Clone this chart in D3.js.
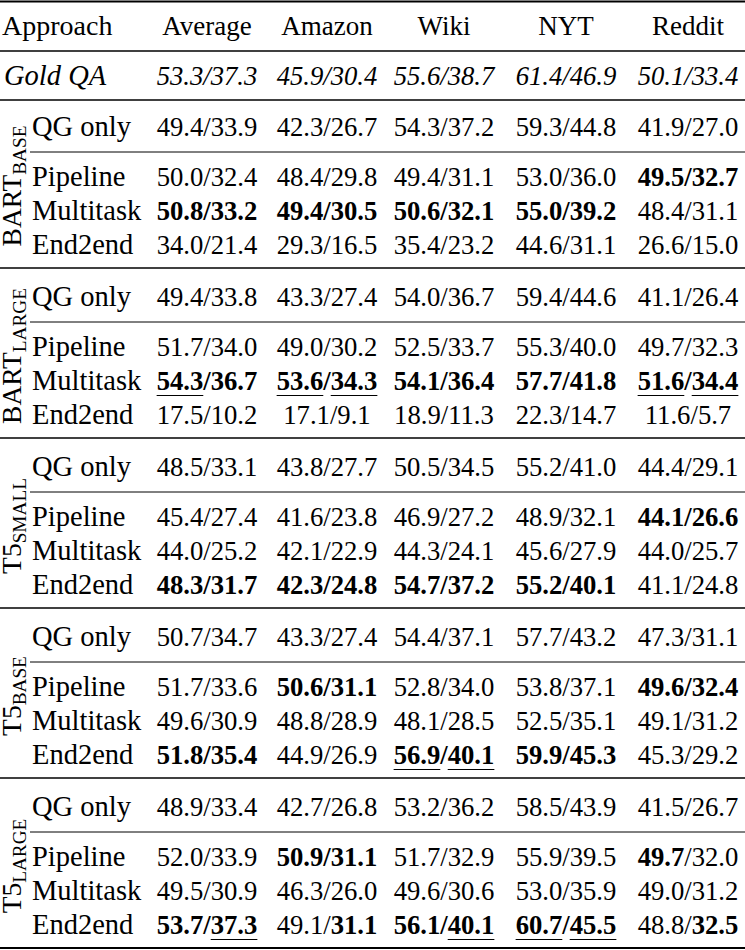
<!DOCTYPE html>
<html>
<head>
<meta charset="utf-8">
<script src="https://cdn.jsdelivr.net/npm/d3@7"></script>
<style>
  html, body { margin: 0; padding: 0; background: #fff; }
  svg { display: block; }
  text { font-family: "Liberation Serif", "Times New Roman", serif; fill: #000; }
</style>
</head>
<body>
<svg id="chart" width="745" height="950"></svg>
<script>
// ---------------- data ----------------
const columns = ["Average", "Amazon", "Wiki", "NYT", "Reddit"];
const goldQA = ["53.3/37.3", "45.9/30.4", "55.6/38.7", "61.4/46.9", "50.1/33.4"];
const approaches = ["QG only", "Pipeline", "Multitask", "End2end"];
const modelNames = ["BART", "BART", "T5", "T5", "T5"];
const modelSizes = ["BASE", "LARGE", "SMALL", "BASE", "LARGE"];

// scores[model][approach][column]
const bartBase = [
  ["49.4/33.9", "42.3/26.7", "54.3/37.2", "59.3/44.8", "41.9/27.0"],
  ["50.0/32.4", "48.4/29.8", "49.4/31.1", "53.0/36.0", "49.5/32.7"],
  ["50.8/33.2", "49.4/30.5", "50.6/32.1", "55.0/39.2", "48.4/31.1"],
  ["34.0/21.4", "29.3/16.5", "35.4/23.2", "44.6/31.1", "26.6/15.0"]
];
const bartLarge = [
  ["49.4/33.8", "43.3/27.4", "54.0/36.7", "59.4/44.6", "41.1/26.4"],
  ["51.7/34.0", "49.0/30.2", "52.5/33.7", "55.3/40.0", "49.7/32.3"],
  ["54.3/36.7", "53.6/34.3", "54.1/36.4", "57.7/41.8", "51.6/34.4"],
  ["17.5/10.2", "17.1/9.1", "18.9/11.3", "22.3/14.7", "11.6/5.7"]
];
const t5Small = [
  ["48.5/33.1", "43.8/27.7", "50.5/34.5", "55.2/41.0", "44.4/29.1"],
  ["45.4/27.4", "41.6/23.8", "46.9/27.2", "48.9/32.1", "44.1/26.6"],
  ["44.0/25.2", "42.1/22.9", "44.3/24.1", "45.6/27.9", "44.0/25.7"],
  ["48.3/31.7", "42.3/24.8", "54.7/37.2", "55.2/40.1", "41.1/24.8"]
];
const t5Base = [
  ["50.7/34.7", "43.3/27.4", "54.4/37.1", "57.7/43.2", "47.3/31.1"],
  ["51.7/33.6", "50.6/31.1", "52.8/34.0", "53.8/37.1", "49.6/32.4"],
  ["49.6/30.9", "48.8/28.9", "48.1/28.5", "52.5/35.1", "49.1/31.2"],
  ["51.8/35.4", "44.9/26.9", "56.9/40.1", "59.9/45.3", "45.3/29.2"]
];
const t5Large = [
  ["48.9/33.4", "42.7/26.8", "53.2/36.2", "58.5/43.9", "41.5/26.7"],
  ["52.0/33.9", "50.9/31.1", "51.7/32.9", "55.9/39.5", "49.7/32.0"],
  ["49.5/30.9", "46.3/26.0", "49.6/30.6", "53.0/35.9", "49.0/31.2"],
  ["53.7/37.3", "49.1/31.1", "56.1/40.1", "60.7/45.5", "48.8/32.5"]
];
const scores = [bartBase, bartLarge, t5Small, t5Base, t5Large];

// emphasis per number (first/second): 0 plain, 1 bold, 2 bold + underline
const marksBartBase = [
  ["00", "00", "00", "00", "00"],
  ["00", "00", "00", "00", "11"],
  ["11", "11", "11", "11", "00"],
  ["00", "00", "00", "00", "00"]
];
const marksBartLarge = [
  ["00", "00", "00", "00", "00"],
  ["00", "00", "00", "00", "00"],
  ["21", "22", "11", "11", "22"],
  ["00", "00", "00", "00", "00"]
];
const marksT5Small = [
  ["00", "00", "00", "00", "00"],
  ["00", "00", "00", "00", "11"],
  ["00", "00", "00", "00", "00"],
  ["11", "11", "11", "11", "00"]
];
const marksT5Base = [
  ["00", "00", "00", "00", "00"],
  ["00", "11", "00", "00", "11"],
  ["00", "00", "00", "00", "00"],
  ["11", "00", "22", "11", "00"]
];
const marksT5Large = [
  ["00", "00", "00", "00", "00"],
  ["00", "11", "00", "00", "10"],
  ["00", "00", "00", "00", "00"],
  ["12", "01", "12", "22", "01"]
];
const marks = [marksBartBase, marksBartLarge, marksT5Small, marksT5Base, marksT5Large];

// ---------------- layout ----------------
const W = 745, H = 950;
const FS = 27.5;      // value font size
const LFS = 28.5;     // row label font size
const HFS = 27;       // header font size
const SX = 0.97;      // horizontal squeeze of value strings
const svg = d3.select("#chart");

const x = d3.scaleOrdinal().domain(columns).range([207, 327, 444, 566, 688]);
const groupY = d3.scaleLinear().domain([0, 1]).range([136, 306]); // baseline of first row of each group
const rowOffset = d3.scaleOrdinal().domain(approaches).range([0, 50, 84, 118]);

const labelX = 32;

function rule(y, x0, x1, w) {
  svg.append("line").attr("x1", x0).attr("x2", x1).attr("y1", y).attr("y2", y)
    .attr("stroke", "#000").attr("stroke-width", w);
}

// header
svg.append("text").attr("x", 2).attr("y", 35).attr("font-size", LFS - 0.5).text("Approach");
svg.selectAll("text.colhead").data(columns).join("text")
  .attr("class", "colhead")
  .attr("x", d => x(d)).attr("y", 35)
  .attr("text-anchor", "middle").attr("font-size", HFS).text(d => d);

// gold QA row
svg.append("text").attr("x", 4).attr("y", 85).attr("font-size", LFS)
  .attr("font-style", "italic").text("Gold QA");
svg.selectAll("g.gold").data(goldQA).join("g")
  .attr("class", "gold")
  .attr("transform", (d, i) => `translate(${x(columns[i])},85) scale(${SX},1)`)
  .append("text")
  .attr("text-anchor", "middle").attr("font-size", FS)
  .attr("font-style", "italic").text(d => d);

// rules
rule(1.5, 0, W, 2.2);
rule(51, 0, W, 1.4);
rule(100, 0, W, 1.4);

function drawCell(parent, str, mark, cx, y) {
  const parts = str.split("/");
  const m0 = +mark[0], m1 = +mark[1];
  const g = parent.append("g").attr("transform", `translate(${cx},${y}) scale(${SX},1)`);
  const t = g.append("text").attr("text-anchor", "middle").attr("font-size", FS);
  t.append("tspan").attr("font-weight", m0 ? "bold" : "normal").text(parts[0]);
  t.append("tspan").attr("font-weight", (m0 && m1) ? "bold" : "normal").text("/");
  t.append("tspan").attr("font-weight", m1 ? "bold" : "normal").text(parts[1]);
  const node = t.node();
  const ranges = [[0, parts[0].length - 1, m0], [parts[0].length + 1, str.length - 1, m1]];
  ranges.forEach(([a, b, m]) => {
    if (m === 2) {
      const xs = node.getStartPositionOfChar(a).x;
      const xe = node.getEndPositionOfChar(b).x;
      g.append("line").attr("x1", xs).attr("x2", xe)
        .attr("y1", 5.5).attr("y2", 5.5)
        .attr("stroke", "#000").attr("stroke-width", 1.2);
    }
  });
}

scores.forEach((block, gi) => {
  const base = groupY(gi);
  const g = svg.append("g").attr("class", "group");
  approaches.forEach((ap, ri) => {
    const y = base + rowOffset(ap);
    g.append("text").attr("x", labelX).attr("y", y).attr("font-size", LFS).text(ap);
    columns.forEach((c, ci) => {
      drawCell(g, block[ri][ci], marks[gi][ri][ci], x(c), y);
    });
  });
  // thin rule between QG only and the rest
  rule(base + 16, 30, W, 1);
  // group bottom rule
  rule(base + 132, 0, W, gi === scores.length - 1 ? 2.2 : 1.6);
  // rotated model label
  const cy = (base - 36 + base + 132) / 2 + 2;
  const lt = g.append("text")
    .attr("transform", `translate(21,${cy}) rotate(-90)`)
    .attr("text-anchor", "middle").attr("font-size", FS);
  lt.append("tspan").text(modelNames[gi]);
  lt.append("tspan").attr("font-size", FS * 0.7).attr("dy", 5).text(modelSizes[gi]);
});
</script>
</body>
</html>
